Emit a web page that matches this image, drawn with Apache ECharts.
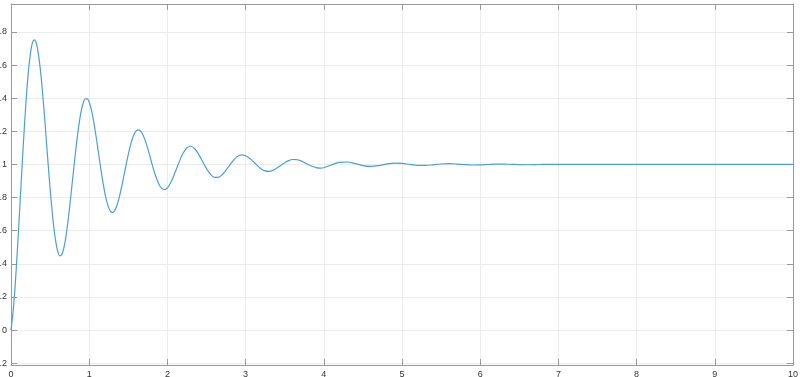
<!DOCTYPE html>
<html>
<head>
<meta charset="utf-8">
<script src="https://cdn.jsdelivr.net/npm/echarts@6/dist/echarts.min.js"></script>
<style>
html,body{margin:0;padding:0;background:#fff;}
#chart{width:800px;height:377px;}
</style>
</head>
<body>
<div id="chart"></div>
<script>
// time (s)
var times = [
 0,0.025,0.05,0.075,0.1,0.125,0.15,0.175,0.2,0.225,0.25,0.275,0.3,0.325,0.35,0.375,0.4,0.425,0.45,0.475,
 0.5,0.525,0.55,0.575,0.6,0.625,0.65,0.675,0.7,0.725,0.75,0.775,0.8,0.825,0.85,0.875,0.9,0.925,0.95,0.975,
 1.0,1.025,1.05,1.075,1.1,1.125,1.15,1.175,1.2,1.225,1.25,1.275,1.3,1.325,1.35,1.375,1.4,1.425,1.45,1.475,
 1.5,1.525,1.55,1.575,1.6,1.625,1.65,1.675,1.7,1.725,1.75,1.775,1.8,1.825,1.85,1.875,1.9,1.925,1.95,1.975,
 2.0,2.05,2.1,2.15,2.2,2.25,2.3,2.35,2.4,2.45,2.5,2.55,2.6,2.65,2.7,2.75,2.8,2.85,2.9,2.95,
 3.0,3.05,3.1,3.15,3.2,3.25,3.3,3.35,3.4,3.45,3.5,3.55,3.6,3.65,3.7,3.75,3.8,3.85,3.9,3.95,
 4.0,4.1,4.2,4.3,4.4,4.5,4.6,4.7,4.8,4.9,5.0,5.1,5.2,5.3,5.4,5.5,5.6,5.7,5.8,5.9,
 6.0,6.1,6.2,6.3,6.4,6.5,6.6,6.7,6.8,6.9,7.0,7.5,8.0,8.5,9.0,9.5,10.0
];
// response values
var response = [
 0,0.102,0.248,0.430,0.633,0.847,1.059,1.258,1.434,1.574,1.675,1.737,1.752,1.730,1.668,1.576,1.454,1.313,1.157,1.002,
 0.854,0.722,0.610,0.526,0.471,0.448,0.456,0.494,0.557,0.642,0.743,0.853,0.965,1.074,1.174,1.260,1.328,1.374,1.396,1.396,
 1.377,1.336,1.280,1.209,1.132,1.049,0.969,0.895,0.829,0.776,0.738,0.716,0.710,0.721,0.746,0.785,0.833,0.888,0.946,1.005,
 1.061,1.111,1.152,1.183,1.203,1.209,1.205,1.190,1.165,1.132,1.094,1.052,1.009,0.967,0.930,0.898,0.873,0.857,0.850,0.850,
 0.858,0.897,0.954,1.015,1.068,1.101,1.110,1.095,1.061,1.018,0.975,0.941,0.922,0.922,0.938,0.966,0.998,1.028,1.049,1.058,
 1.053,1.038,1.017,0.993,0.973,0.961,0.958,0.964,0.978,0.994,1.010,1.023,1.030,1.029,1.023,1.012,1.000,0.989,0.981,0.978,
 0.980,0.998,1.013,1.015,1.0055,0.9932,0.9882,0.9931,1.0024,1.0082,1.0068,1.0004,0.9949,0.9942,0.9981,1.0027,1.0045,1.0025,0.9990,0.9969,
 0.9975,0.9999,1.0020,1.0022,1.0007,0.9989,0.9983,0.9991,1.0004,1.0012,1.0009,1.0,1.0,1.0,1.0,1.0,1.0
];
var xTicks = [0,1,2,3,4,5,6,7,8,9,10];
var yTicks = [-0.2,0,0.2,0.4,0.6,0.8,1,1.2,1.4,1.6,1.8];

var pts = times.map(function(t,i){return [t, response[i]];});
var axisCol = '#9a9a9a';
var gridCol = '#ececec';
var labelStyle = {color:'#333', fontSize:9, fontFamily:'Liberation Sans, Arial, sans-serif'};

var chart = echarts.init(document.getElementById('chart'), null, {renderer:'canvas'});
function xAxisDef(pos, showLabel, showSplit){
  return {
    type:'value', position:pos, min:0, max:10,
    axisLine:{show:true, onZero:false, lineStyle:{color:axisCol, width:1}},
    axisTick:{show:true, inside:true, length:6, customValues:xTicks, lineStyle:{color:axisCol}},
    axisLabel:Object.assign({show:showLabel, margin:5, customValues:xTicks, formatter:function(v){return String(v);}}, labelStyle),
    splitLine:{show:showSplit, lineStyle:{color:gridCol, width:1}}
  };
}
function yAxisDef(pos, showLabel, showSplit){
  return {
    type:'value', position:pos, min:-0.211, max:1.969,
    axisLine:{show:true, onZero:false, lineStyle:{color:axisCol, width:1}},
    axisTick:{show:true, inside:true, length:6, customValues:yTicks, lineStyle:{color:axisCol}},
    axisLabel:Object.assign({show:showLabel, margin:4, customValues:yTicks, formatter:function(v){return String(Math.round(v*10)/10);}}, labelStyle),
    splitLine:{show:showSplit, lineStyle:{color:gridCol, width:1}}
  };
}
chart.setOption({
  animation:false,
  backgroundColor:'#fff',
  grid:{left:11, right:7, top:4, bottom:12, containLabel:false, outerBoundsMode:'none'},
  xAxis:[xAxisDef('bottom', true, true), xAxisDef('top', false, false)],
  yAxis:[yAxisDef('left', true, true), yAxisDef('right', false, false)],
  series:[{
    type:'line', data:pts, xAxisIndex:0, yAxisIndex:0,
    showSymbol:false, smooth:0.3, clip:true,
    lineStyle:{color:'#4a9fd8', width:1.2}
  }]
});
</script>
</body>
</html>
